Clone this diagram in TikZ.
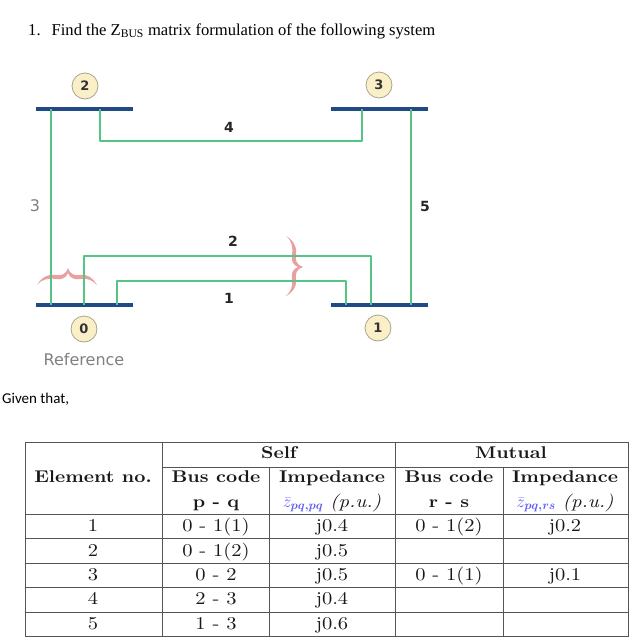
\documentclass[tikz,border=0pt]{standalone}
\usepackage{amsmath}
\usepackage{fontspec}
\newfontfamily\titlefont{Liberation Serif}
\newfontfamily\givenfont{Carlito}
\newfontfamily\labelfont{DejaVu Sans}
\newfontfamily\tabfont[Extension=.otf,FakeStretch=1.14,BoldFont=lmroman10-bold,ItalicFont=lmroman10-italic]{lmroman10-regular}
\definecolor{busblue}{HTML}{1F4A85}
\definecolor{linegreen}{HTML}{55C585}
\definecolor{bracepink}{HTML}{E8A0A0}
\definecolor{circfill}{HTML}{FBEFC8}
\definecolor{circedge}{HTML}{A8A48C}
\definecolor{zblue}{HTML}{5A5AF5}
\definecolor{gridgray}{HTML}{555555}
\tikzset{
	busbar/.style={fill=busblue,minimum width=97pt,minimum height=4pt,inner sep=0pt},
	busnum/.style={circle,draw=circedge,fill=circfill,line width=0.8pt,minimum size=26pt,inner sep=0pt,font=\labelfont\bfseries\fontsize{13}{13}\selectfont,text=black!80},
	elem/.style={draw=linegreen,line width=1.6pt,line join=round},
	elemnum/.style={font=\labelfont\bfseries\fontsize{14}{14}\selectfont,text=black!85},
	cell/.style={font=\tabfont\fontsize{18}{18}\selectfont,text=black!90,inner sep=0pt,text height=12pt,text depth=0pt},
	head/.style={cell,font=\tabfont\bfseries\fontsize{17}{17}\selectfont},
	grid/.style={draw=gridgray,line width=1pt},
	curlymark/.pic={
		\fill [bracepink] (-31,17) .. controls (-26,8) and (-18,6) .. (-12,7)
			.. controls (-6,8) and (-2,6) .. (0,0)
			.. controls (2,6) and (6,8) .. (12,7)
			.. controls (20,6) and (25,10) .. (29,17)
			.. controls (24,12) and (20,10) .. (12,11)
			.. controls (6,12) and (2,10) .. (0,5)
			.. controls (-2,10) and (-6,12) .. (-12,11)
			.. controls (-20,10) and (-26,11) .. (-31,17) -- cycle;
	},
}
\begin{document}
\begin{tikzpicture}[x=1pt,y=-1pt]
	\useasboundingbox (0,0) rectangle (634,640);
	\node [anchor=west,inner sep=0pt,font=\titlefont\fontsize{16.6}{16.6}\selectfont] (title) at (28,31) {1.\hspace{11pt}Find the Z\textsubscript{BUS} matrix formulation of the following system};
	% braces for the mutual coupling
	\pic at (68,268) {curlymark};
	\pic [rotate=-90] at (303,267) {curlymark};
	% buses
	\node [busbar] (bustwo) at (84.5,109) {};
	\node [busbar] (busthree) at (379,109) {};
	\node [busbar] (buszero) at (84.5,305) {};
	\node [busbar] (busone) at (379,305) {};
	\node [busnum] (numtwo) at (85,86) {2};
	\node [busnum] (numthree) at (379,85) {3};
	\node [busnum] (numzero) at (84,329) {0};
	\node [busnum] (numone) at (378,328) {1};
	% tap points on the buses
	\coordinate (tapa) at (51,109);
	\coordinate (tapb) at (51,305);
	\coordinate (tapc) at (100,109);
	\coordinate (tapd) at (362,109);
	\coordinate (tape) at (411,109);
	\coordinate (tapf) at (411,305);
	\coordinate (tapg) at (84,305);
	\coordinate (taph) at (371,305);
	\coordinate (tapi) at (117,305);
	\coordinate (tapj) at (346,305);
	\draw [elem] (tapa) -- (tapb);
	\draw [elem] (tapc) -- (100,141) -- (362,141) -- (tapd);
	\draw [elem] (tape) -- (tapf);
	\draw [elem] (tapg) -- (84,256) -- (371,256) -- (taph);
	\draw [elem] (tapi) -- (117,281) -- (346,281) -- (tapj);
	% element numbers
	\node [elemnum] (elemfour) at (229,127) {4};
	\node [elemnum] (elemtwo) at (233,241) {2};
	\node [elemnum] (elemone) at (229,298) {1};
	\node [elemnum] (elemfive) at (425,206) {5};
	\node [font=\labelfont\fontsize{16}{16}\selectfont,text=black!50] (elemthree) at (35,206) {3};
	\node [font=\labelfont\fontsize{16}{16}\selectfont,text=black!50] (reflabel) at (84,360) {Reference};
	\node [anchor=west,inner sep=0pt,font=\givenfont\fontsize{15}{15}\selectfont] (given) at (2,399) {Given that,};
	% table
	\draw [grid] (25,442) rectangle (628,636);
	\draw [grid] (162,467) -- (628,467);
	\foreach \rowy in {514,538,563,587,612}
		\draw [grid] (25,\rowy) -- (628,\rowy);
	\draw [grid] (162,442) -- (162,636);
	\draw [grid] (395,442) -- (395,636);
	\draw [grid] (269,467) -- (269,636);
	\draw [grid] (503,467) -- (503,636);
	\node [head] (hself) at (279,452) {Self};
	\node [head] (hmutual) at (511,452) {Mutual};
	\node [head] (helem) at (93,476) {Element no.};
	\node [head] (hbusa) at (216,476) {Bus code};
	\node [head] (himpa) at (332,476) {Impedance};
	\node [head] (hbusb) at (449,476) {Bus code};
	\node [head] (himpb) at (565,476) {Impedance};
	\node [head] (hpq) at (216,501) {p - q};
	\node [cell] (hzpq) at (332,501) {\textcolor{zblue}{$\bar{z}_{\boldsymbol{pq,pq}}$} \textit{(p.u.)}};
	\node [head] (hrs) at (449,501) {r - s};
	\node [cell] (hzrs) at (565,501) {\textcolor{zblue}{$\bar{z}_{\boldsymbol{pq,rs}}$} \textit{(p.u.)}};
	\foreach \elemno/\rowy/\buspq/\zself in {1/525/0 - 1(1)/j0.4,2/550/0 - 1(2)/j0.5,3/574/0 - 2/j0.5,4/598/2 - 3/j0.4,5/623/1 - 3/j0.6}{
		\node [cell] (no\elemno) at (93,\rowy) {\elemno};
		\node [cell] (pq\elemno) at (216,\rowy) {\buspq};
		\node [cell] (zs\elemno) at (332,\rowy) {\zself};
	}
	\node [cell] (rsone) at (449,525) {0 - 1(2)};
	\node [cell] (zmone) at (565,525) {j0.2};
	\node [cell] (rsthree) at (449,574) {0 - 1(1)};
	\node [cell] (zmthree) at (565,574) {j0.1};
\end{tikzpicture}
\end{document}
